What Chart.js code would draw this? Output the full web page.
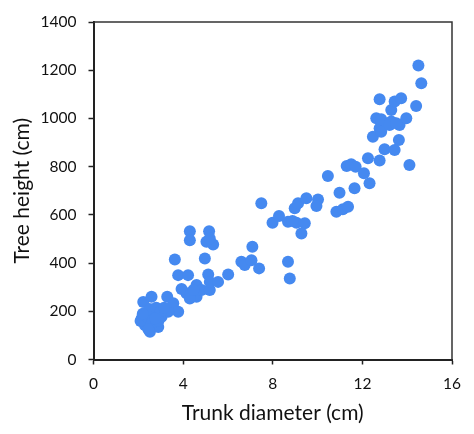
<!DOCTYPE html>
<html>
<head>
<meta charset="utf-8">
<script src="https://cdn.jsdelivr.net/npm/chart.js@4/dist/chart.umd.min.js"></script>
<style>
html,body{margin:0;padding:0;background:#fff;}
#wrap{width:474px;height:434px;}
</style>
</head>
<body>
<div id="wrap"><canvas id="c" width="474" height="434"></canvas></div>
<script>
const diameter = [
 2.22,2.59,3.29,3.56,3.78,2.15,2.30,2.52,2.89,3.04,2.66,3.33,2.37,2.10,2.40,2.60,2.70,2.50,2.80,3.00,2.20,2.90,2.45,2.75,3.15,
 4.15,4.60,3.63,3.78,4.22,3.93,4.30,4.60,4.82,5.19,4.30,5.12,5.19,5.56,4.97,6.01,4.46,4.30,4.30,5.16,5.04,5.34,5.19,
 6.60,6.75,7.05,7.39,7.09,7.49,
 7.99,8.28,8.68,9.06,9.43,9.28,8.98,9.13,9.50,10.02,9.95,8.68,8.76,8.88,
 10.46,10.98,11.65,12.32,10.84,11.13,11.36,11.30,11.50,11.70,12.07,12.25,12.77,14.10,
 12.99,13.44,12.47,13.63,12.77,12.84,12.62,12.84,13.29,13.66,13.96,13.21,13.51,13.29,12.77,13.44,13.73,14.40,14.63,14.50
];
const height = [
 239,260,260,233,198,170,142,115,135,177,184,198,191,160,175,150,200,210,215,200,190,160,125,170,215,
 275,260,415,350,350,292,267,309,288,288,253,353,322,322,419,353,288,532,495,532,488,477,502,
 405,392,412,378,468,648,
 567,595,571,567,565,523,627,648,669,664,637,405,336,575,
 761,692,710,731,613,623,634,803,810,800,773,835,825,807,
 872,869,924,911,959,945,1001,997,987,973,1001,973,980,1035,1080,1070,1084,1052,1146,1220
];
const xTicks = [0,4,8,12,16];
const yTicks = [0,200,400,600,800,1000,1200,1400];
const xTitle = 'Trunk diameter (cm)';
const yTitle = 'Tree height (cm)';

const points = diameter.map((d,i)=>({x:d,y:height[i]}));
const FONT = 'Lato, "Open Sans", sans-serif';

const framePlugin = {
  id:'frame',
  afterDraw(chart){
    const {ctx, chartArea:a} = chart;
    ctx.save();
    ctx.strokeStyle = '#333';
    ctx.lineWidth = 1.5;
    ctx.beginPath();
    ctx.moveTo(a.left, a.top);
    ctx.lineTo(a.right, a.top);
    ctx.lineTo(a.right, a.bottom);
    ctx.stroke();
    ctx.restore();
  }
};

new Chart(document.getElementById('c'), {
  type:'scatter',
  data:{datasets:[{data:points, backgroundColor:'#4589F0', borderWidth:0, pointRadius:6, pointHoverRadius:6}]},
  options:{
    responsive:false,
    animation:false,
    layout:{padding:{left:0, top:22, right:22, bottom:0}},
    plugins:{legend:{display:false}, tooltip:{enabled:false}},
    scales:{
      x:{
        type:'linear', min:0, max:16,
        afterBuildTicks(s){ s.ticks = xTicks.map(v=>({value:v})); },
        afterFit(s){ s.height = 434 - 359.5; },
        grid:{drawOnChartArea:false, drawTicks:true, tickLength:5, tickColor:'#222', tickWidth:1.5},
        border:{display:true, color:'#222', width:2},
        ticks:{color:'#111', padding:10, font:{family:FONT, size:15.5}, callback:v=>String(v)},
        title:{display:true, text:xTitle, color:'#111', font:{family:FONT, size:21}, padding:{top:0,bottom:8}}
      },
      y:{
        type:'linear', min:0, max:1400,
        afterBuildTicks(s){ s.ticks = yTicks.map(v=>({value:v})); },
        afterFit(s){ s.width = 93.5; },
        grid:{drawOnChartArea:false, drawTicks:true, tickLength:5, tickColor:'#222', tickWidth:1.5},
        border:{display:true, color:'#222', width:2},
        ticks:{color:'#111', padding:12, font:{family:FONT, size:15.5}, callback:v=>String(v)},
        title:{display:true, text:yTitle, color:'#111', font:{family:FONT, size:21}, padding:{top:9.5,bottom:0}}
      }
    }
  },
  plugins:[framePlugin]
});
</script>
</body>
</html>
